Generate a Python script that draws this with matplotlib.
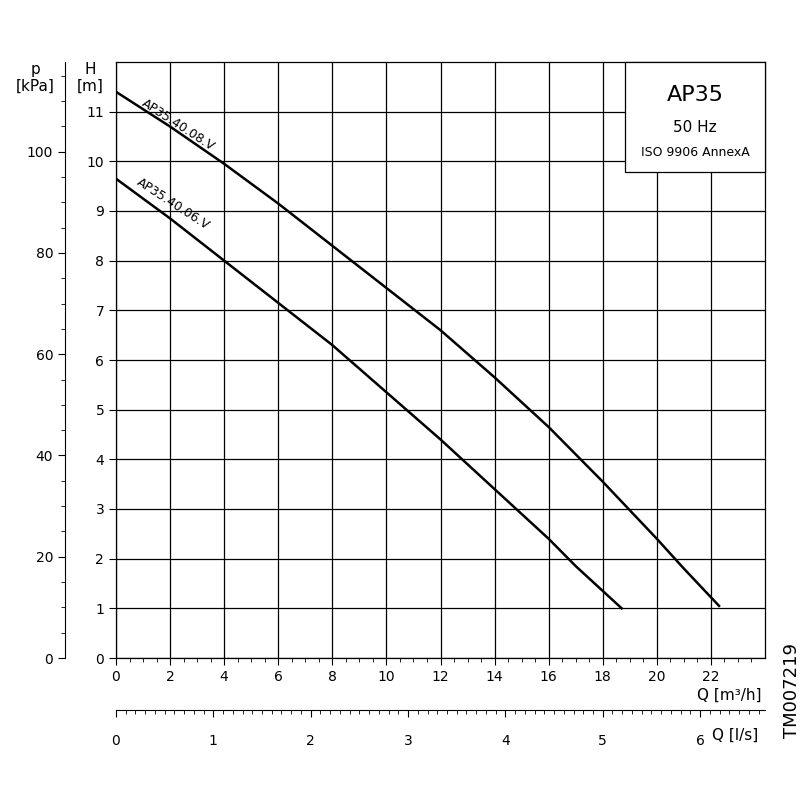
import numpy as np
import matplotlib
matplotlib.use("agg")
from matplotlib import pyplot as plt

# pump curves: flow Q [m3/h], head H [m]
q_08 = [0, 2, 4, 6, 8, 10, 12, 14, 16, 18, 20, 21, 22.3]
h_08 = [11.4, 10.7, 9.95, 9.15, 8.3, 7.45, 6.6, 5.65, 4.65, 3.55, 2.4, 1.8, 1.05]
q_06 = [0, 2, 4, 6, 8, 10, 12, 14, 16, 17, 18.7]
h_06 = [9.65, 8.85, 8.0, 7.15, 6.3, 5.35, 4.4, 3.4, 2.4, 1.85, 1.0]
curve_names = ["AP35.40.08.V", "AP35.40.06.V"]

RHO_G = 9.81  # kPa per m
Q_MAX, H_MAX = 24, 12

fig = plt.figure(figsize=(8, 8), dpi=100)
L, R, B, T = 116/800, 765/800, 1-658/800, 1-62/800
ax = fig.add_axes([L, B, R-L, T-B])
ax.plot(q_08, h_08, color="black", lw=1.8)
ax.plot(q_06, h_06, color="black", lw=1.8)
ax.set_xlim(0, Q_MAX)
ax.set_ylim(0, H_MAX)
ax.set_xticks(np.arange(0, 23, 2))
ax.set_xticks(np.arange(0, 24, 0.5), minor=True)
ax.set_yticks(np.arange(0, 12, 1))
ax.grid(True, which="major", color="black", lw=0.9)
for s in ["top", "right", "left", "bottom"]:
    ax.spines[s].set_linewidth(0.9)
ax.tick_params(direction="out", labelsize=10, length=5)
ax.tick_params(which="minor", length=3)
fig.text(90/800, 1-78/800, "H\n[m]", ha="center", va="center", fontsize=11)
ax.text(21.5, -0.75, "Q [m³/h]", ha="left", va="center", fontsize=11)

# curve labels
ax.text(1.0, 11.2, curve_names[0], rotation=-33, ha="left", va="center", fontsize=9, rotation_mode="anchor")
ax.text(0.8, 9.6, curve_names[1], rotation=-33, ha="left", va="center", fontsize=9, rotation_mode="anchor")

# info box
box = plt.Rectangle((625/800, 1-172/800), 140/800, 110/800, transform=fig.transFigure,
                    facecolor="white", edgecolor="black", lw=0.9, zorder=5)
fig.add_artist(box)
fig.text(695/800, 1-95/800, "AP35", ha="center", va="center", fontsize=16, zorder=6)
fig.text(695/800, 1-128/800, "50 Hz", ha="center", va="center", fontsize=11, zorder=6)
fig.text(695/800, 1-152/800, "ISO 9906 AnnexA", ha="center", va="center", fontsize=9, zorder=6)

# pressure axis
axp = fig.add_axes([65/800, B, 0.001, T-B])
axp.set_ylim(0, H_MAX*RHO_G)
axp.set_xticks([])
axp.set_yticks(np.arange(0, 101, 20))
axp.set_yticks(np.arange(0, H_MAX*RHO_G, 5), minor=True)
for s in ["top", "right", "bottom"]:
    axp.spines[s].set_visible(False)
axp.tick_params(direction="out", labelsize=10, length=5)
axp.tick_params(which="minor", length=3)
axp.patch.set_visible(False)
fig.text(35/800, 1-78/800, "p\n[kPa]", ha="center", va="center", fontsize=11)

# l/s axis
axl = fig.add_axes([L, 1-710/800, R-L, 0.001])
axl.set_xlim(0, Q_MAX/3.6)
axl.set_yticks([])
axl.set_xticks(np.arange(0, 7, 1))
axl.set_xticks(np.arange(0, Q_MAX/3.6, 0.1), minor=True)
for s in ["top", "right", "left"]:
    axl.spines[s].set_visible(False)
axl.tick_params(direction="out", labelsize=10, length=5, pad=12)
axl.tick_params(which="minor", length=3)
axl.patch.set_visible(False)
fig.text(712/800, 1-735/800, "Q [l/s]", ha="left", va="center", fontsize=11)

fig.text(792/800, 1-690/800, "TM007219", rotation=90, ha="center", va="center", fontsize=13)

fig.savefig("out.png", dpi=100)
